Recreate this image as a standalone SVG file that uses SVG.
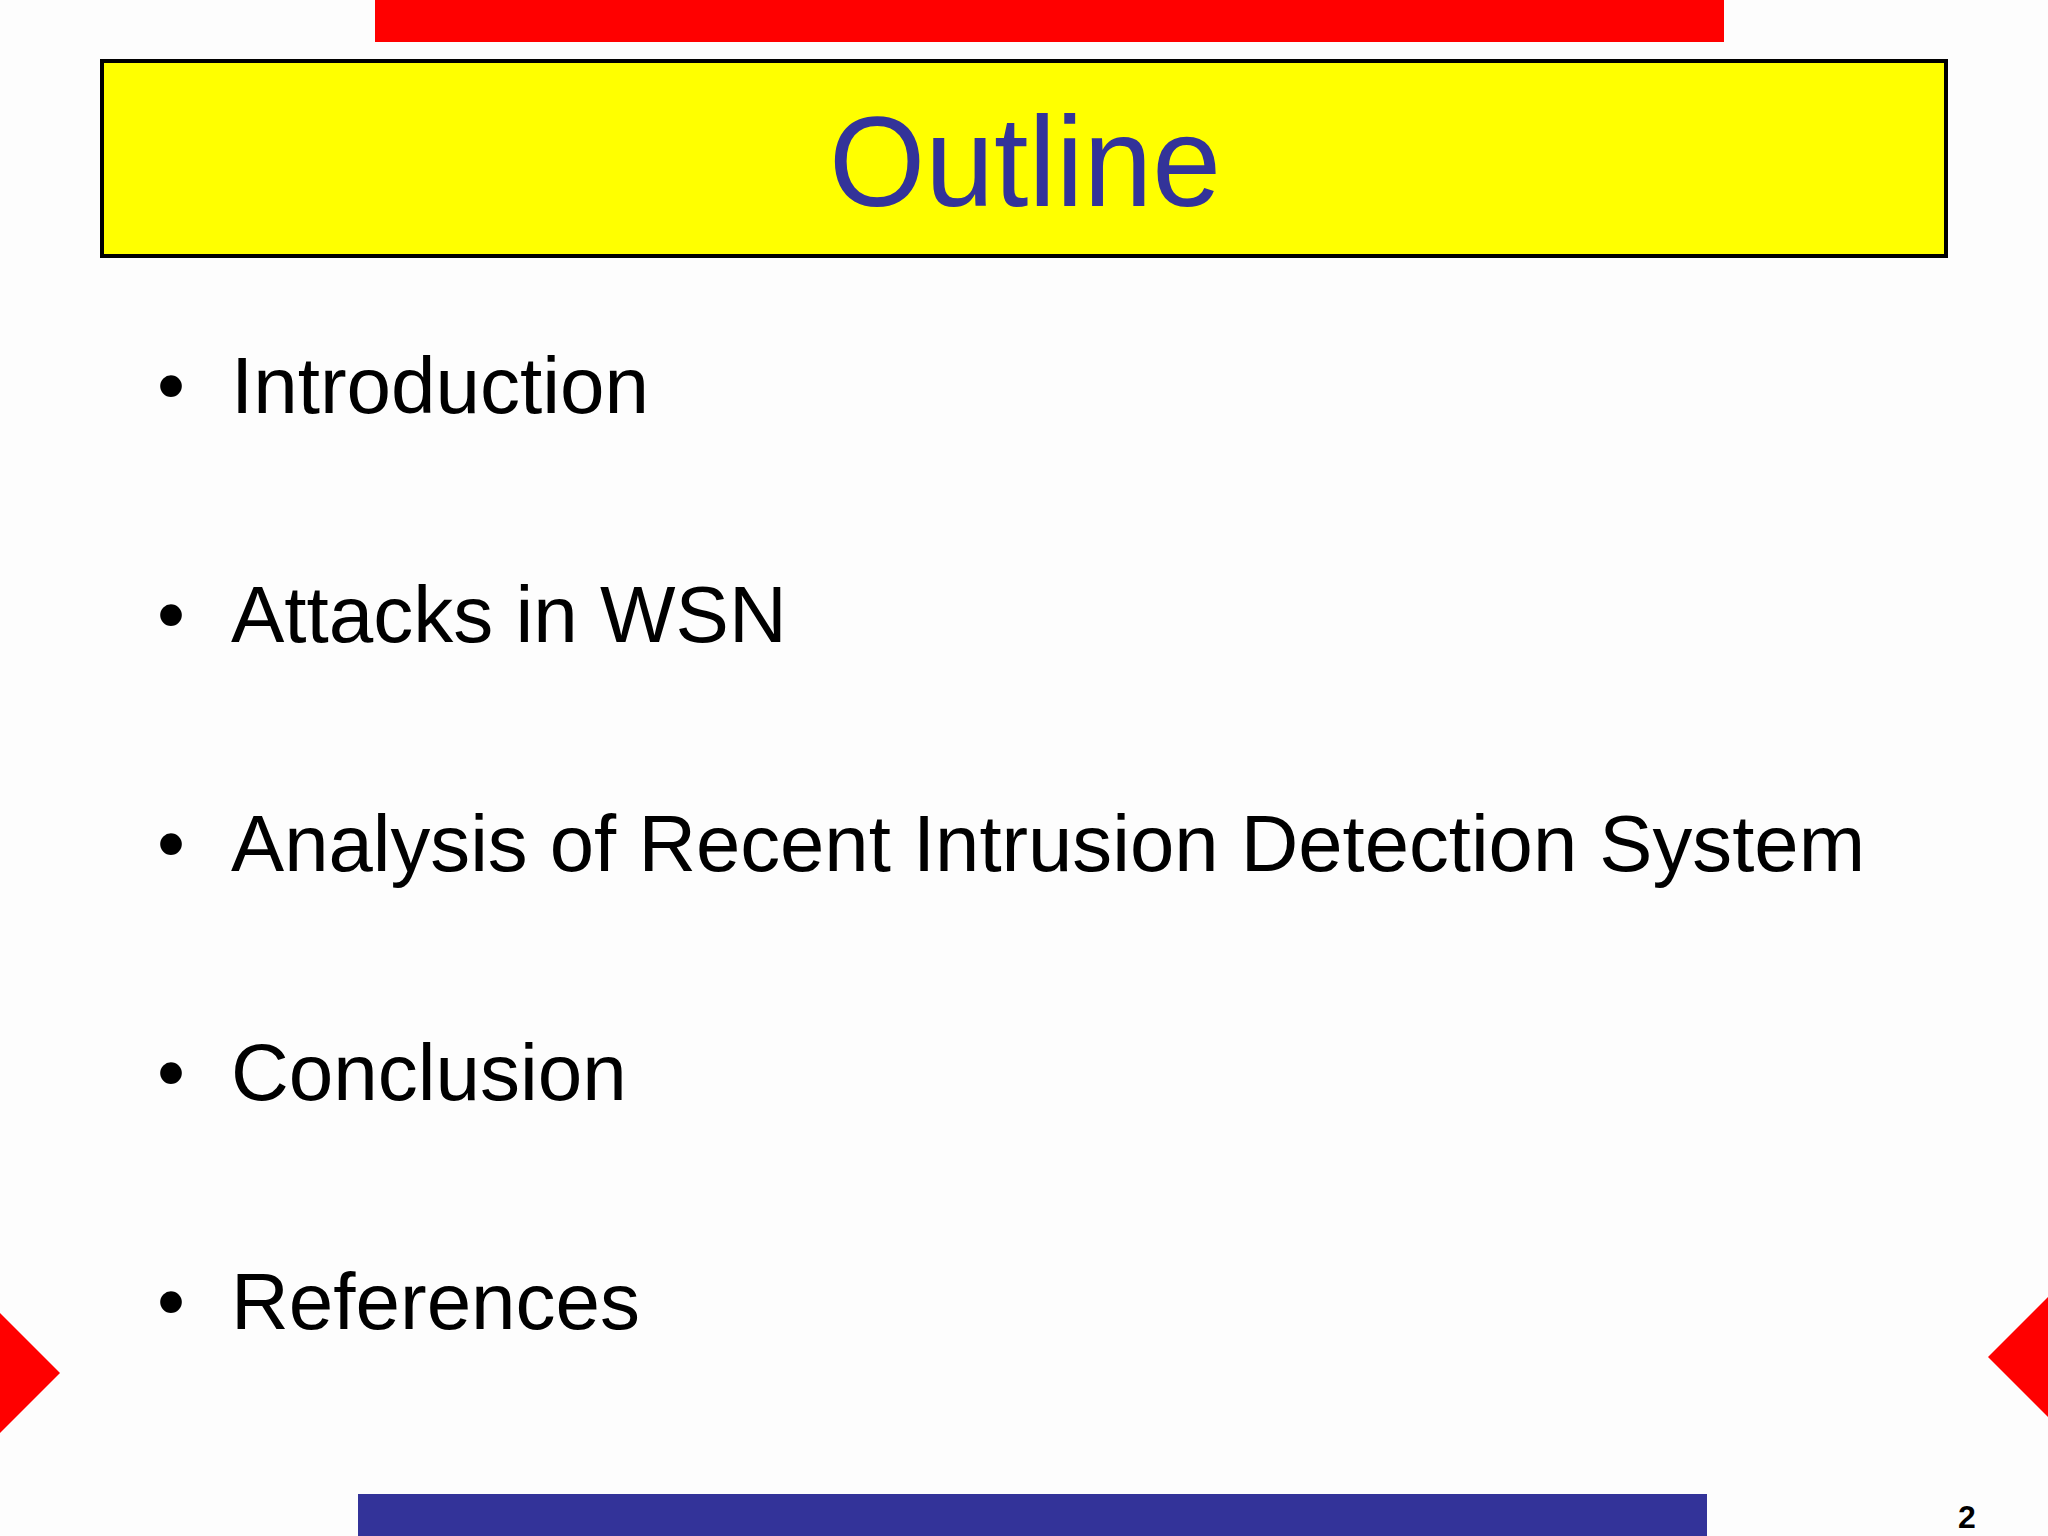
<svg xmlns="http://www.w3.org/2000/svg" width="2048" height="1536" viewBox="0 0 2048 1536">
<style>
.item{font-family:"Liberation Sans",Arial,sans-serif;font-size:80px;fill:#000000}
.bul{font-family:"Liberation Sans",Arial,sans-serif;font-size:80px;fill:#000000;text-anchor:middle}
.title{font-family:"Liberation Sans",Arial,sans-serif;font-size:128px;fill:#333399;text-anchor:middle}
.red{fill:#FF0000}
</style>
<rect x="0" y="0" width="2048" height="1536" fill="#FDFDFD"/>
<g id="top-bar"><rect class="red" x="375" y="0" width="1349" height="42"/></g>
<g id="title-box">
<rect x="102" y="61" width="1844" height="195" fill="#FFFF00" stroke="#000000" stroke-width="4"/>
<text class="title" x="1025" y="206" textLength="392" lengthAdjust="spacingAndGlyphs">Outline</text>
</g>
<g id="items">
<g id="item1"><text class="bul" x="171" y="413">•</text><text class="item" x="231" y="413">Introduction</text></g>
<g id="item2"><text class="bul" x="171" y="642">•</text><text class="item" x="231" y="642">Attacks in WSN</text></g>
<g id="item3"><text class="bul" x="171" y="871">•</text><text class="item" x="231" y="871" textLength="1634" lengthAdjust="spacingAndGlyphs">Analysis of Recent Intrusion Detection System</text></g>
<g id="item4"><text class="bul" x="171" y="1100">•</text><text class="item" x="231" y="1100">Conclusion</text></g>
<g id="item5"><text class="bul" x="171" y="1329">•</text><text class="item" x="231" y="1329">References</text></g>
</g>
<g id="left-marker"><polygon class="red" points="0,1313 60,1373 0,1433"/></g>
<g id="right-marker"><polygon class="red" points="2048,1297 1988,1357 2048,1417"/></g>
<g id="bottom-bar"><rect x="358" y="1494" width="1349" height="42" fill="#333399"/></g>
<g id="page-number"><text x="1967" y="1528" font-family="'Liberation Sans',Arial,sans-serif" font-size="32" font-weight="bold" text-anchor="middle" fill="#000000">2</text></g>
<g id="connectors"/>
</svg>
